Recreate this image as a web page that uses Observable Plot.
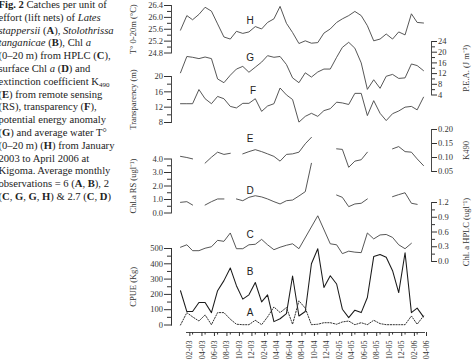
<!DOCTYPE html>
<html><head><meta charset="utf-8">
<script src="https://cdn.jsdelivr.net/npm/d3@7"></script>
<script src="https://cdn.jsdelivr.net/npm/@observablehq/plot@0.6"></script>
<style>
html,body{margin:0;padding:0;background:#fff;}
#wrap{position:relative;width:474px;height:363px;overflow:hidden;background:#fff;}
#cap{position:absolute;left:-1.5px;top:-1px;font-family:"Liberation Serif",serif;font-size:10.6px;line-height:12.8px;color:#222;white-space:nowrap;}
#cap sub{font-size:7px;vertical-align:-2px;line-height:0;}
#wrap svg{position:absolute;left:0;top:0;}
</style></head><body>
<div id="wrap"><div id="cap"><b>Fig. 2</b> Catches per unit of<br>effort (lift nets) of <i>Lates</i><br><i>stappersii</i> (<b>A</b>), <i>Stolothrissa</i><br><i>tanganicae</i> (<b>B</b>), Chl <i>a</i><br>(0–20 m) from HPLC (<b>C</b>),<br>surface Chl <i>a</i> (<b>D</b>) and<br>extinction coefficient K<sub>490</sub><br>(<b>E</b>) from remote sensing<br>(RS), transparency (<b>F</b>),<br>potential energy anomaly<br>(<b>G</b>) and average water T°<br>(0–20 m) (<b>H</b>) from January<br>2003 to April 2006 at<br>Kigoma. Average monthly<br>observations = 6 (<b>A</b>, <b>B</b>), 2<br>(<b>C</b>, <b>G</b>, <b>G</b>, <b>H</b>) &amp; 2.7 (<b>C</b>, <b>D</b>)</div></div>
<script>
// Monthly series, January 2003 .. April 2006 (40 months)
const xTickLabels = ["02-03","04-03","06-03","08-03","10-03","12-03","02-04","04-04","06-04","08-04","10-04","12-04","02-05","04-05","06-05","08-05","10-05","12-05","02-06","04-06"];

const tempH = [25.57,26.06,25.92,26.10,26.34,26.21,25.78,25.34,25.27,25.53,25.46,25.51,25.69,25.61,25.83,25.95,26.37,25.80,25.49,25.12,25.21,25.13,25.15,25.47,25.61,25.83,25.95,26.06,26.20,26.06,25.72,25.21,25.27,25.44,25.27,25.51,25.41,26.12,25.83,25.81];
const peaG = [12.3,18.4,18.1,17.6,18.2,17.6,10.0,8.6,11.4,13.7,14.7,12.5,14.4,16.3,18.7,18.1,18.4,15.4,10.4,8.6,12.3,10.7,12.6,13.7,13.7,18.1,21.8,23.7,21.5,16.0,6.1,9.7,6.5,11.0,11.7,10.2,10.4,15.6,15.0,13.1];
const transpF = [12.9,12.9,12.9,16.6,14.2,12.9,14.8,14.2,12.2,11.8,13.0,13.0,14.2,10.9,12.3,12.9,17.0,15.2,14.0,8.1,9.6,10.4,9.6,11.1,11.6,13.3,13.1,12.7,15.6,15.6,9.8,13.7,10.4,8.5,10.3,11.0,12.0,12.2,11.3,14.6];
const k490E = [0.104,0.100,0.095,null,0.080,0.101,0.119,0.111,0.115,null,0.113,0.121,0.128,0.121,0.113,0.104,0.087,0.111,0.113,0.119,0.149,0.172,null,null,null,0.131,0.129,0.065,0.087,0.092,0.119,null,null,null,0.131,0.139,0.121,0.119,0.095,0.071];
const chlRsD = [0.79,0.84,0.59,null,0.59,0.84,1.04,1.04,null,1.04,0.91,1.16,1.28,1.19,1.04,0.84,0.67,0.91,0.96,1.26,1.58,3.68,null,null,null,1.33,1.16,0.47,0.67,0.72,1.04,null,null,null,1.21,1.36,1.50,0.72,0.64,null];
const chlHplcC = [0.29,0.34,0.22,0.22,0.27,0.30,0.43,0.41,0.58,0.26,0.26,0.34,0.35,0.45,0.34,0.24,0.29,0.33,0.36,0.26,null,null,0.93,null,0.36,0.34,0.16,0.21,0.19,0.18,0.58,0.46,0.54,0.55,0.49,0.34,0.26,0.37,null,null];
const cpueB = [224,88,88,147,147,81,224,290,373,257,169,197,278,151,197,22,41,74,320,59,88,400,498,245,322,268,103,48,97,81,180,447,461,443,355,212,472,81,110,53];
const cpueA = [0,81,53,26,66,2,81,81,38,5,2,2,31,2,53,118,81,114,5,158,110,2,5,15,15,5,20,26,2,15,2,31,9,2,2,2,2,59,5,59];

const seriesLetters = ["H","G","F","E","D","C","B","A"];
const letterValues = [25.89, 17.8, 16.35, 0.167, 1.67, 0.543, 350, 77];

const W = 474, HT = 363;
const months = d3.utcMonth.range(new Date(Date.UTC(2003,0,1)), new Date(Date.UTC(2006,4,1)));
const xDomain = [months[0], months[months.length - 1]];
const X_RANGE = [180, 423];
const parseTick = d3.utcParse("%m-%y");
const majorDates = xTickLabels.map(parseTick);
const minorDates = months.filter((d, i) => i % 2 === 0 && i > 0 && i < months.length - 1);
const letterDate = new Date(Date.UTC(2003, 11, 7));
const letterDateF = new Date(Date.UTC(2003, 11, 21));

const toRows = (arr, keepNull) => months.map((d, i) => ({date: d, value: arr[i]})).filter(r => keepNull || r.value != null);

const wrap = document.getElementById("wrap");
const baseStyle = {background: "transparent", fontFamily: "Liberation Serif, serif", color: "#333", overflow: "visible"};

function panel(o) {
  const left = o.anchor === "left";
  const marks = [
    Plot.frame({anchor: o.anchor, stroke: "#333", strokeWidth: 0.9}),
  ];
  if (o.minor) marks.push(Plot.axisY({anchor: o.anchor, ticks: o.minor, tickSize: left ? 4 : 3, tickFormat: () => "", label: null, stroke: "#333"}));
  marks.push(Plot.axisY({anchor: o.anchor, ticks: o.ticks, tickSize: left ? 7 : 5, tickPadding: 1.5, tickFormat: d3.format(o.fmt), fontSize: 8.5,
    label: o.label, labelAnchor: "center", labelArrow: "none", labelOffset: o.labelOffset, stroke: "#333"}));
  marks.push(Plot.line(o.rows, {x: "date", y: "value", stroke: o.stroke || "#444", strokeWidth: o.sw || 0.9, strokeDasharray: o.dash}));
  marks.push(Plot.text([o.letter], {x: "date", y: "value", text: "text", fontFamily: "Liberation Sans, sans-serif", fontSize: 10, fill: "#222"}));
  return Plot.plot({
    width: W, height: HT,
    marginTop: o.top, marginBottom: HT - o.bottom, marginLeft: 171, marginRight: W - 431,
    x: {type: "utc", domain: xDomain, range: X_RANGE, axis: null},
    y: {domain: o.domain, axis: null},
    style: baseStyle,
    marks
  });
}

const specs = [
  {anchor: "left", top: 5, bottom: 52.5, domain: [24.8, 26.4], ticks: [24.8, 25.2, 25.6, 26.0, 26.4], minor: [25.0, 25.4, 25.8, 26.2], fmt: ".1f", label: "T° 0-20m (°C)", labelOffset: 42, rows: toRows(tempH), li: 0},
  {anchor: "right", top: 41, bottom: 94.5, domain: [4, 24], ticks: [4, 8, 12, 16, 20, 24], minor: [6, 10, 14, 18, 22], fmt: "d", label: "P.E.A. (J m⁻³)", labelOffset: 37, rows: toRows(peaG), li: 1},
  {anchor: "left", top: 76, bottom: 122, domain: [8, 20], ticks: [8, 12, 16, 20], minor: [10, 14, 18], fmt: "d", label: "Transparency (m)", labelOffset: 42, rows: toRows(transpF), li: 2, ld: letterDateF},
  {anchor: "right", top: 129, bottom: 171, domain: [0.05, 0.20], ticks: [0.05, 0.10, 0.15, 0.20], minor: null, fmt: ".2f", label: "K490", labelOffset: 37, rows: toRows(k490E, true), li: 3},
  {anchor: "left", top: 158.5, bottom: 212.5, domain: [0, 4], ticks: [0, 1, 2, 3, 4], minor: [0.5, 1.5, 2.5, 3.5], fmt: ".1f", label: "Chl.a RS (ugl⁻¹)", labelOffset: 42, rows: toRows(chlRsD, true), li: 4},
  {anchor: "right", top: 202, bottom: 261, domain: [0, 1.2], ticks: [0, 0.3, 0.6, 0.9, 1.2], minor: [0.15, 0.45, 0.75, 1.05], fmt: ".1f", label: "Chl. a HPLC (ugl⁻¹)", labelOffset: 37, rows: toRows(chlHplcC), li: 5},
  {anchor: "left", top: 248, bottom: 324.5, domain: [0, 500], ticks: [0, 100, 200, 300, 400, 500], minor: [50, 150, 250, 350, 450], fmt: "d", label: "CPUE (Kg)", labelOffset: 42, rows: toRows(cpueB), li: 6, stroke: "#1a1a1a", sw: 1.05},
  {anchor: "left", top: 248, bottom: 324.5, domain: [0, 500], ticks: [], minor: null, fmt: "d", label: null, labelOffset: 42, rows: toRows(cpueA), li: 7, dash: "1.3,1.5", stroke: "#333", sw: 1}
];

for (const s of specs) {
  s.letter = {date: s.ld || letterDate, value: letterValues[s.li], text: seriesLetters[s.li]};
  wrap.appendChild(panel(s));
}

// x axis
wrap.appendChild(Plot.plot({
  width: W, height: HT,
  marginTop: 300, marginBottom: HT - 332, marginLeft: 186, marginRight: W - 424,
  x: {type: "utc", domain: xDomain, range: X_RANGE},
  style: baseStyle,
  marks: [
    Plot.frame({anchor: "bottom", stroke: "#333", strokeWidth: 0.9}),
    Plot.axisX({ticks: minorDates, tickSize: 2.5, tickFormat: () => "", label: null, stroke: "#333"}),
    Plot.axisX({ticks: majorDates, tickSize: 4, tickPadding: 4, tickRotate: -90, tickFormat: d3.utcFormat("%m-%y"), fontSize: 8, label: null, stroke: "#333", dx: 3})
  ]
}));
</script>
</body></html>
